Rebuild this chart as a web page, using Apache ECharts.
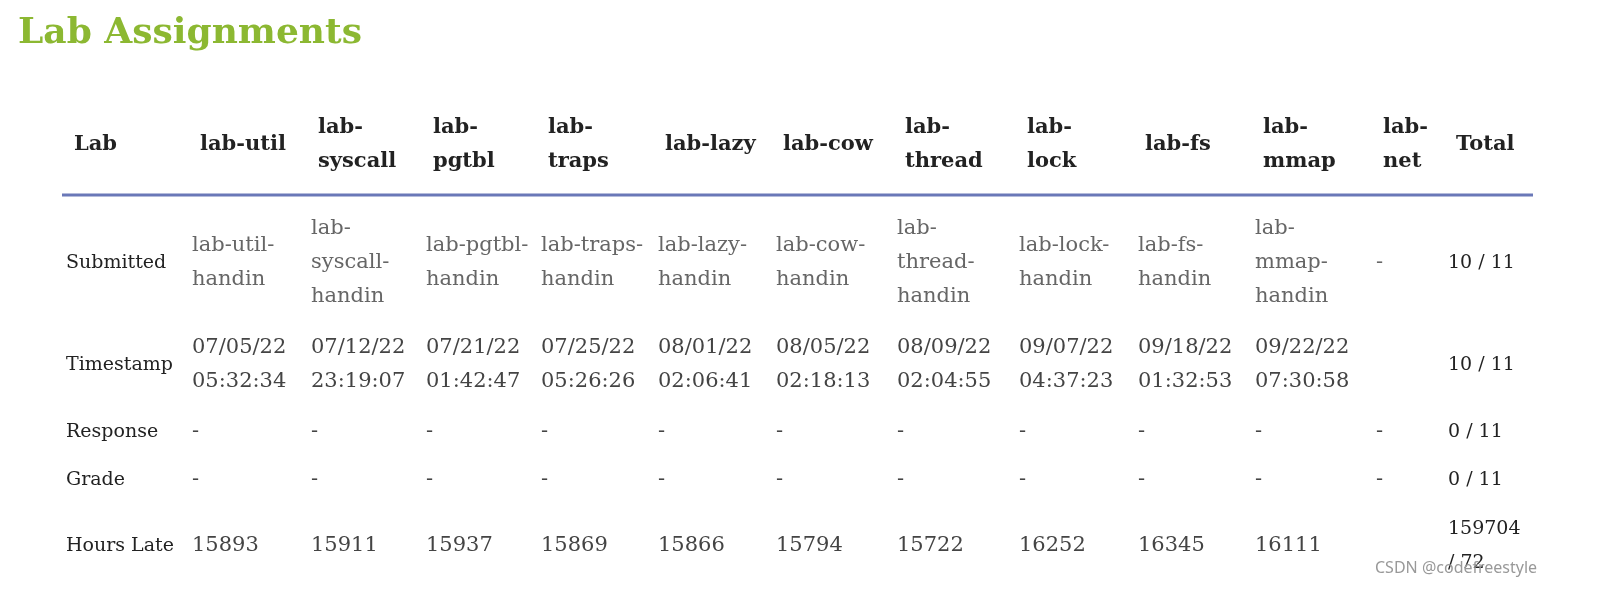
<!DOCTYPE html>
<html><head><meta charset="utf-8">
<script src="https://cdn.jsdelivr.net/npm/echarts@6/dist/echarts.min.js"></script>
<style>html,body{margin:0;padding:0;background:#fff}#c{width:1597px;height:598px}</style>
</head><body><div id="c"></div>
<script>
var headers = ['Lab','lab-util','lab-\nsyscall','lab-\npgtbl','lab-\ntraps','lab-lazy','lab-cow','lab-\nthread','lab-\nlock','lab-fs','lab-\nmmap','lab-\nnet','Total'];
var rowLabels = ['Submitted','Timestamp','Response','Grade','Hours Late'];
var submitted = ['lab-util-\nhandin','lab-\nsyscall-\nhandin','lab-pgtbl-\nhandin','lab-traps-\nhandin','lab-lazy-\nhandin','lab-cow-\nhandin','lab-\nthread-\nhandin','lab-lock-\nhandin','lab-fs-\nhandin','lab-\nmmap-\nhandin','-','10 / 11'];
var timestamp = ['07/05/22\n05:32:34','07/12/22\n23:19:07','07/21/22\n01:42:47','07/25/22\n05:26:26','08/01/22\n02:06:41','08/05/22\n02:18:13','08/09/22\n02:04:55','09/07/22\n04:37:23','09/18/22\n01:32:53','09/22/22\n07:30:58','','10 / 11'];
var response = ['-','-','-','-','-','-','-','-','-','-','-','0 / 11'];
var grade = ['-','-','-','-','-','-','-','-','-','-','-','0 / 11'];
var hoursLate = ['15893','15911','15937','15869','15866','15794','15722','16252','16345','16111','','159704\n/ 72'];

var colX = [66,192,311,426,541,658,776,897,1019,1138,1255,1376,1448];
var headX = [74,200,318,433,548,665,783,905,1027,1145,1263,1383,1456];
var rowY = [263,365,432,480,546];
var rows = [submitted,timestamp,response,grade,hoursLate];
var els = [];
els.push({type:'text',style:{text:'Lab Assignments',x:18,y:34,font:'bold 36px "DejaVu Serif"',fill:'#8cb832',verticalAlign:'middle'}});
headers.forEach(function(h,i){
  els.push({type:'text',style:{text:h,x:headX[i],y:145,font:'bold 21px "DejaVu Serif"',fill:'#222',verticalAlign:'middle',lineHeight:34}});
});
els.push({type:'line',shape:{x1:62,y1:195,x2:1533,y2:195},style:{stroke:'#6a78b8',lineWidth:3}});
rowLabels.forEach(function(r,j){
  els.push({type:'text',style:{text:r,x:colX[0],y:rowY[j],font:'19px "DejaVu Serif"',fill:'#222',verticalAlign:'middle'}});
  rows[j].forEach(function(v,i){
    var tot = i===11;
    els.push({type:'text',style:{text:v,x:colX[i+1],y:rowY[j],font:(tot?'19px':'21px')+' "DejaVu Serif"',fill: tot?'#222':(j===0?'#666':'#444'),verticalAlign:'middle',lineHeight:34}});
  });
});
els.push({type:'text',style:{text:'CSDN @codefreestyle',x:1375,y:568,font:'16px "Noto Sans"',fill:'#999',verticalAlign:'middle'}});
var ch = echarts.init(document.getElementById('c'));
ch.setOption({animation:false,graphic:{elements:els}});
</script></body></html>
